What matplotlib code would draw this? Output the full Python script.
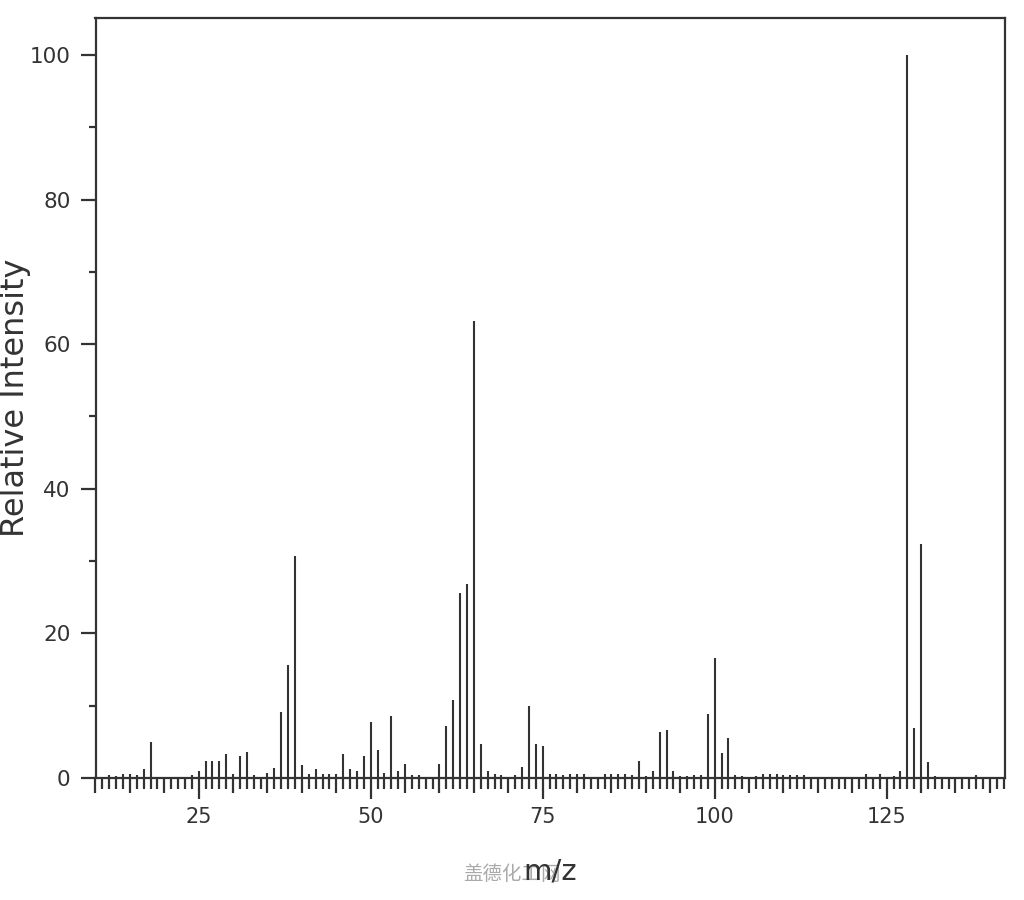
import numpy as np
import matplotlib.pyplot as plt
from matplotlib.ticker import MultipleLocator, FuncFormatter

# m/z values and relative intensities
mz = [12, 13, 14, 15, 16, 17, 18, 24, 25, 26, 27, 28, 29, 30, 31, 32, 33,
      35, 36, 37, 38, 39, 40, 41, 42, 43, 44, 45, 46, 47, 48, 49, 50, 51,
      52, 53, 54, 55, 56, 57, 60, 61, 62, 63, 64, 65, 66, 67, 68, 69, 71,
      72, 73, 74, 75, 76, 77, 78, 79, 80, 81, 84, 85, 86, 87, 88, 89, 90,
      91, 92, 93, 94, 95, 96, 97, 98, 99, 100, 101, 102, 103, 104, 106,
      107, 108, 109, 110, 111, 112, 113, 122, 124, 126, 127, 128, 129, 130,
      131, 132, 138]
intensity = [0.4, 0.3, 0.5, 0.6, 0.4, 1.2, 5.0, 0.4, 1.0, 2.4, 2.4, 2.4, 3.3,
             0.6, 3.0, 3.6, 0.4, 0.7, 1.4, 9.1, 15.6, 30.7, 1.75, 0.6, 1.3,
             0.6, 0.5, 0.6, 3.3, 1.2, 1.0, 3.0, 7.7, 3.9, 0.7, 8.6, 1.0, 1.9,
             0.4, 0.4, 1.9, 7.2, 10.8, 25.6, 26.8, 63.2, 4.7, 1.0, 0.6, 0.4,
             0.4, 1.5, 9.9, 4.7, 4.4, 0.6, 0.6, 0.4, 0.6, 0.5, 0.6, 0.55,
             0.55, 0.55, 0.55, 0.4, 2.4, 0.3, 0.9, 6.4, 6.6, 0.9, 0.3, 0.3,
             0.4, 0.4, 8.8, 16.6, 3.5, 5.5, 0.4, 0.3, 0.3, 0.6, 0.6, 0.6, 0.4,
             0.4, 0.4, 0.4, 0.5, 0.6, 0.3, 1.0, 100, 6.9, 32.4, 2.2, 0.3, 0.4]

x_labels = [25, 50, 75, 100, 125]
y_ticks = [0, 20, 40, 60, 80, 100]

dark = '#333333'

plt.rcParams['font.family'] = ['DejaVu Sans', 'Noto Sans CJK SC']

fig = plt.figure(figsize=(10.24, 9.0), dpi=100)
ax = fig.add_axes([95.5 / 1024, 1 - 778 / 900, (1005 - 95.5) / 1024, (778 - 18) / 900])

ax.vlines(mz, 0, intensity, color=dark, linewidth=1.5)

ax.set_xlim(10, 142.2)
ax.set_ylim(0, 105.1)

for s in ax.spines.values():
    s.set_color(dark)
    s.set_linewidth(1.6)

# x ticks: every 5 (labels only at multiples of 25), minor every 1
ax.xaxis.set_major_locator(MultipleLocator(5))
ax.xaxis.set_minor_locator(MultipleLocator(1))
ax.xaxis.set_major_formatter(FuncFormatter(
    lambda v, p: '%d' % v if int(round(v)) in x_labels else ''))
ax.tick_params(axis='x', which='major', direction='out', length=15, width=1.6,
               color=dark, labelsize=15, labelcolor=dark, pad=6)
ax.tick_params(axis='x', which='minor', direction='out', length=8, width=1.6,
               color=dark)
fig.canvas.draw()
for t in ax.xaxis.get_major_ticks():
    v = t.get_loc()
    if int(round(v)) not in x_labels:
        t.tick1line.set_markersize(11)

ax.set_yticks(y_ticks)
ax.yaxis.set_minor_locator(MultipleLocator(10))
ax.tick_params(axis='y', which='major', direction='out', length=11, width=1.6,
               color=dark, labelsize=15.5, labelcolor=dark, pad=7)
ax.tick_params(axis='y', which='minor', direction='out', length=5, width=1.6,
               color=dark)

ax.set_ylabel('Relative Intensity', fontsize=23, color=dark)
ax.yaxis.set_label_coords(-0.071, 0.5)
ax.set_xlabel('m/z', fontsize=21, color=dark, labelpad=22)

# site watermark, drawn beneath the axis label
ax.text(463 / 1024, 1 - 875 / 900, '盖德化工网', transform=fig.transFigure,
        fontsize=14, color='#aaaaaa', va='center', ha='left',
        family=['Noto Sans CJK SC', 'DejaVu Sans'], zorder=0.5, clip_on=False)

fig.savefig('out.png', dpi=100)
